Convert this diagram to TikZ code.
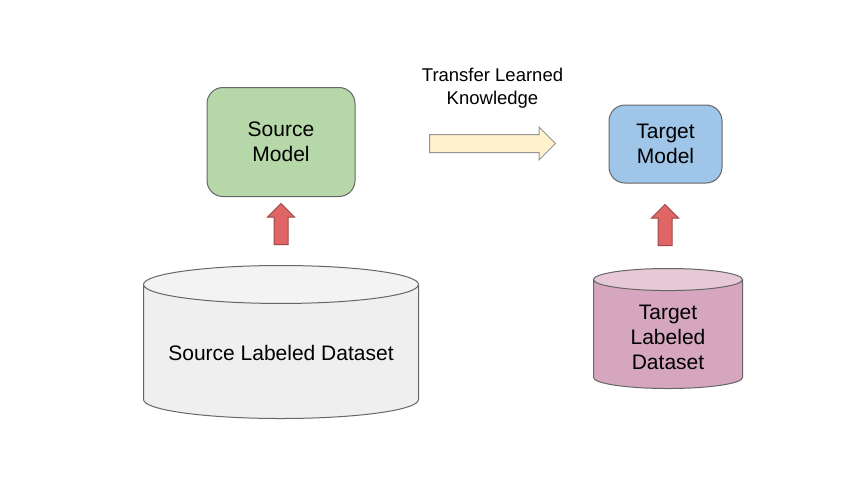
\documentclass[tikz,border=0pt]{standalone}
\usepackage{fontspec}
\setmainfont{Liberation Sans}
\usetikzlibrary{shapes.geometric,shapes.arrows,positioning,calc}
\definecolor{modelgreen}{HTML}{B6D7A8}
\definecolor{modelblue}{HTML}{9FC5E8}
\definecolor{transyellow}{HTML}{FFF2CC}
\definecolor{uparrowred}{HTML}{E06666}
\definecolor{datagray}{HTML}{EFEFEF}
\definecolor{datagraytop}{HTML}{F3F3F3}
\definecolor{datapink}{HTML}{D5A6BD}
\definecolor{datapinktop}{HTML}{E6C8D6}
\definecolor{edgegray}{HTML}{666666}
\tikzset{
	model/.style={draw=edgegray,line width=0.5pt,rounded corners=8pt,align=center,font=\fontsize{10.5}{12.5}\selectfont},
	dataset/.style={cylinder,shape border rotate=90,draw=edgegray,line width=0.5pt,cylinder uses custom fill,inner ysep=0pt,anchor=north},
	dslabel/.style={align=center,font=\fontsize{10.5}{12.5}\selectfont},
	uparrow/.style={single arrow,shape border rotate=90,draw=uparrowred!70!black,fill=uparrowred,line width=0.5pt,inner sep=3.25pt,single arrow head extend=3.25pt,minimum height=20.5pt},
	transarrow/.style={single arrow,draw=edgegray!70,fill=transyellow,line width=0.5pt,inner sep=4.25pt,single arrow head extend=3.75pt,minimum height=63pt}
}
\begin{document}
\begin{tikzpicture}[x=0.5pt,y=-0.5pt]
				\useasboundingbox[fill=white] (0,0) rectangle (850,478);
				%%% models
				\node[model,fill=modelgreen,minimum width=74pt,minimum height=54.5pt] (srcmodel) at (281,142) {Source\\Model};
				\node[model,fill=modelblue,minimum width=56.5pt,minimum height=39pt] (tgtmodel) at (665.5,144) {Target\\Model};
				
				%%% datasets
				\node[dataset,cylinder body fill=datagray,cylinder end fill=datagraytop,inner xsep=68.75pt,aspect=0.138,minimum width=137.5pt,minimum height=76.5pt] (srcdata) at (281,265) {};
				\node[dataset,cylinder body fill=datapink,cylinder end fill=datapinktop,inner xsep=37.25pt,aspect=0.148,minimum width=74.5pt,minimum height=60pt] (tgtdata) at (668,268) {};
				\node[dslabel] (srcdatatext) at (281,353) {Source Labeled Dataset};
				\node[dslabel] (tgtdatatext) at (668,337) {Target\\Labeled\\Dataset};
				
				%%% arrows
				\node[uparrow] (srcup) at (281,227.5) {};
				\node[uparrow] (tgtup) at (665,228.5) {};
				\node[transarrow] (transfer) at (488,143.5) {};
				\node[align=center,font=\fontsize{9.25}{11.5}\selectfont] (transfertext) at (492.5,88) {Transfer Learned\\Knowledge};
		\end{tikzpicture}
\end{document}
